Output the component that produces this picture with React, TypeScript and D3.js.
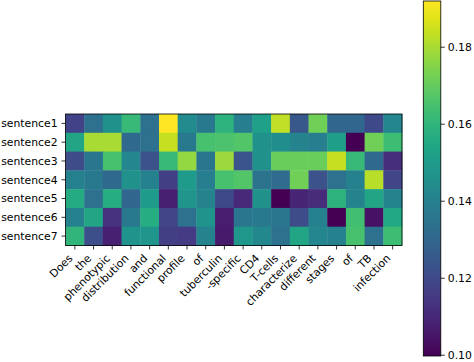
import React, { useEffect, useRef } from "react";
import * as d3 from "d3";

const words = ["Does", "the", "phenotypic", "distribution", "and", "functional", "profile", "of",
  "tuberculin", "-specific", "CD4", "T-cells", "characterize", "different", "stages", "of", "TB", "infection"];

const sentences = ["sentence1", "sentence2", "sentence3", "sentence4", "sentence5", "sentence6", "sentence7"];

const row1 = [0.118, 0.134, 0.146, 0.162, 0.134, 0.192, 0.144, 0.137, 0.159, 0.139, 0.152, 0.183, 0.125, 0.172, 0.130, 0.130, 0.120, 0.142];
const row2 = [0.154, 0.180, 0.180, 0.131, 0.134, 0.184, 0.137, 0.165, 0.166, 0.167, 0.146, 0.145, 0.141, 0.139, 0.151, 0.0998, 0.172, 0.163];
const row3 = [0.121, 0.136, 0.165, 0.142, 0.123, 0.162, 0.177, 0.136, 0.178, 0.124, 0.146, 0.171, 0.171, 0.171, 0.184, 0.162, 0.131, 0.112];
const row4 = [0.140, 0.137, 0.131, 0.146, 0.140, 0.117, 0.150, 0.139, 0.165, 0.167, 0.135, 0.132, 0.172, 0.123, 0.134, 0.140, 0.182, 0.119];
const row5 = [0.156, 0.134, 0.157, 0.130, 0.150, 0.108, 0.148, 0.141, 0.120, 0.110, 0.146, 0.100, 0.109, 0.111, 0.159, 0.141, 0.154, 0.141];
const row6 = [0.140, 0.154, 0.113, 0.137, 0.157, 0.119, 0.134, 0.147, 0.107, 0.136, 0.137, 0.136, 0.121, 0.140, 0.100, 0.164, 0.104, 0.155];
const row7 = [0.160, 0.122, 0.108, 0.147, 0.148, 0.117, 0.116, 0.141, 0.106, 0.149, 0.143, 0.134, 0.154, 0.142, 0.140, 0.165, 0.134, 0.163];

const rows = [row1, row2, row3, row4, row5, row6, row7];
const cbTicks = [0.10, 0.12, 0.14, 0.16, 0.18];

const App = () => {
  const ref = useRef<SVGSVGElement>(null);

  useEffect(() => {
    const svg = d3.select(ref.current);
    svg.selectAll("*").remove();

    const font = "DejaVu Sans, sans-serif";
    const fs = 10.8;
    const all = rows.flat();
    const vmin = d3.min(all) as number;
    const vmax = d3.max(all) as number;
    const color = d3.scaleSequential(d3.interpolateViridis).domain([vmin, vmax]);

    const x = d3.scaleBand().domain(words.map((w, i) => String(i))).range([65.5, 402]);
    const y = d3.scaleBand().domain(sentences).range([114, 245.5]);

    // heatmap cells
    const g = svg.append("g");
    rows.forEach((r, ri) => {
      g.selectAll(null)
        .data(r)
        .enter()
        .append("rect")
        .attr("x", (d, i) => x(String(i)) as number)
        .attr("y", y(sentences[ri]) as number)
        .attr("width", x.bandwidth() + 0.4)
        .attr("height", y.bandwidth() + 0.4)
        .attr("fill", d => color(d));
    });
    g.append("rect")
      .attr("x", 65.5).attr("y", 114)
      .attr("width", 402 - 65.5).attr("height", 245.5 - 114)
      .attr("fill", "none").attr("stroke", "black").attr("stroke-width", 0.8);

    // y ticks
    sentences.forEach(s => {
      const cy = (y(s) as number) + y.bandwidth() / 2;
      svg.append("line").attr("x1", 61.5).attr("x2", 65.5).attr("y1", cy).attr("y2", cy)
        .attr("stroke", "black").attr("stroke-width", 0.8);
      svg.append("text").attr("x", 57.5).attr("y", cy).attr("dy", "0.35em")
        .attr("text-anchor", "end").attr("font-family", font).attr("font-size", fs)
        .text(s);
    });

    // x ticks
    words.forEach((w, i) => {
      const cx = (x(String(i)) as number) + x.bandwidth() / 2;
      svg.append("line").attr("x1", cx).attr("x2", cx).attr("y1", 245.5).attr("y2", 249.5)
        .attr("stroke", "black").attr("stroke-width", 0.8);
      svg.append("text")
        .attr("transform", `translate(${cx - 1.6},${259}) rotate(-45)`)
        .attr("text-anchor", "end").attr("font-family", font).attr("font-size", fs)
        .text(w);
    });

    // colorbar
    const cbX = 423.3, cbW = 17.5, cbTop = 1, cbBot = 356;
    const cy = d3.scaleLinear().domain([vmin, vmax]).range([cbBot, cbTop]);
    const grad = svg.append("defs").append("linearGradient")
      .attr("id", "cbgrad").attr("x1", 0).attr("x2", 0).attr("y1", 1).attr("y2", 0);
    d3.range(0, 1.0001, 0.05).forEach(t => {
      grad.append("stop").attr("offset", t).attr("stop-color", d3.interpolateViridis(t));
    });
    svg.append("rect").attr("x", cbX).attr("y", cbTop).attr("width", cbW).attr("height", cbBot - cbTop)
      .attr("fill", "url(#cbgrad)").attr("stroke", "black").attr("stroke-width", 0.8);

    cbTicks.forEach(t => {
      const ty = cy(t);
      svg.append("line").attr("x1", cbX + cbW).attr("x2", cbX + cbW + 4).attr("y1", ty).attr("y2", ty)
        .attr("stroke", "black").attr("stroke-width", 0.8);
      svg.append("text").attr("x", cbX + cbW + 7).attr("y", ty).attr("dy", "0.32em")
        .attr("font-family", font).attr("font-size", fs)
        .text(d3.format(".2f")(t));
    });
  }, []);

  return (
    <svg ref={ref} width={474} height={362}
      style={{ position: "absolute", left: 0, top: 0, background: "white" }} />
  );
};

export default App;
